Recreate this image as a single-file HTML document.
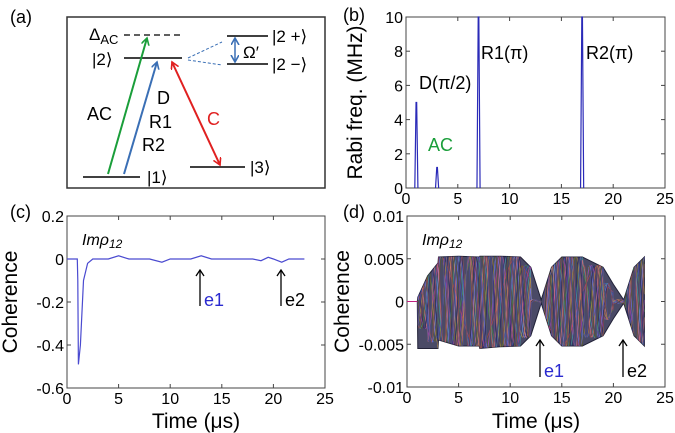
<!DOCTYPE html>
<html><head><meta charset="utf-8"><style>
body{margin:0;background:#fff;width:675px;height:433px;overflow:hidden}
svg{font-family:"Liberation Sans",sans-serif;display:block}
</style></head><body>
<svg id="fig" width="675" height="433" viewBox="0 0 675 433">
<defs>
<marker id="ag" markerWidth="10" markerHeight="10" refX="7" refY="4" orient="auto-start-reverse" markerUnits="userSpaceOnUse"><path d="M0,0 L7,4 L0,8" fill="none" stroke="#1a9e3a" stroke-width="1.6"/></marker>
<marker id="ab" markerWidth="10" markerHeight="10" refX="7" refY="4" orient="auto-start-reverse" markerUnits="userSpaceOnUse"><path d="M0,0 L7,4 L0,8" fill="none" stroke="#3a6fb5" stroke-width="1.6"/></marker>
<marker id="ar" markerWidth="10" markerHeight="10" refX="7" refY="4" orient="auto-start-reverse" markerUnits="userSpaceOnUse"><path d="M0,0 L7,4 L0,8" fill="none" stroke="#e02020" stroke-width="1.6"/></marker>
<marker id="ak" markerWidth="12" markerHeight="10" refX="5" refY="1" orient="0" markerUnits="userSpaceOnUse"><path d="M1,7 L5,1 L9,7" fill="none" stroke="#000" stroke-width="1.3"/></marker>
</defs>

<!-- Panel a -->
<g>
<text x="10" y="23" font-size="18">(a)</text>
<rect x="67" y="17" width="258" height="171" fill="#fff" stroke="#333" stroke-width="1.5"/>
<line x1="124" y1="35" x2="182" y2="35" stroke="#000" stroke-width="1.3" stroke-dasharray="6,4"/>
<text x="89" y="40" font-size="17">Δ<tspan font-size="13" dy="4">AC</tspan></text>
<line x1="124" y1="58" x2="182" y2="58" stroke="#000" stroke-width="1.5"/>
<text x="92" y="65" font-size="17">|2⟩</text>
<line x1="188" y1="58" x2="222" y2="42" stroke="#3a6fb5" stroke-dasharray="3,2"/>
<line x1="188" y1="60" x2="222" y2="65" stroke="#3a6fb5" stroke-dasharray="3,2"/>
<line x1="227" y1="36" x2="268" y2="36" stroke="#000" stroke-width="1.5"/>
<line x1="227" y1="64" x2="268" y2="64" stroke="#000" stroke-width="1.5"/>
<line x1="235" y1="38" x2="235" y2="62" stroke="#3a6fb5" stroke-width="1.5" marker-end="url(#ab)" marker-start="url(#ab)"/>
<text x="243" y="58" font-size="17">Ω′</text>
<text x="272" y="42" font-size="17">|2 +⟩</text>
<text x="272" y="70" font-size="17">|2 −⟩</text>
<line x1="83" y1="177" x2="140" y2="177" stroke="#000" stroke-width="1.5"/>
<text x="147" y="183" font-size="17">|1⟩</text>
<line x1="190" y1="167" x2="245" y2="167" stroke="#000" stroke-width="1.5"/>
<text x="250" y="173" font-size="17">|3⟩</text>
<line x1="108" y1="174" x2="147" y2="38" stroke="#1a9e3a" stroke-width="2" marker-end="url(#ag)"/>
<line x1="124" y1="174" x2="157" y2="62" stroke="#3a6fb5" stroke-width="2" marker-end="url(#ab)"/>
<line x1="220" y1="165" x2="172" y2="62" stroke="#e02020" stroke-width="2" marker-end="url(#ar)" marker-start="url(#ar)"/>
<text x="87" y="120" font-size="18">AC</text>
<text x="157" y="104" font-size="18">D</text>
<text x="149" y="128" font-size="18">R1</text>
<text x="142" y="151" font-size="18">R2</text>
<text x="207" y="125" font-size="18" fill="#e02020">C</text>
</g>

<g id="pb"></g>
<g id="pc"></g>
<g id="pd"></g>
</svg>
<script>
// Panel b data
const bPulseTimes=[1,3,7,17];
const bPulseHeights=[5,1.2,10,10];
const bXTicks=[0,5,10,15,20,25];
const bYTicks=[0,2,4,6,8,10];
// Panel c data
const cTimes=[0,1,1.05,1.1,1.3,1.6,2,2.5,4,5,6,8,9.2,10,12,13,14,18,18.8,19.5,20,20.8,21.5,23];
const cValues=[0,0,-0.1,-0.49,-0.4,-0.1,-0.02,0,0,0.015,0,0,-0.015,0,0,0.015,0,0,-0.008,0.008,0,-0.015,0,0];
const cXTicks=[0,5,10,15,20,25];
const cYTicks=[-0.6,-0.4,-0.2,0,0.2];
// Panel d envelope data
const dTimes=[0,1,1.05,2,3,3.05,5,7,7.05,9,11,12,13,14,15,17,19,20,21,22,23];
const dUpper=[0,0,0.0005,0.003,0.0045,0.0052,0.0053,0.0052,0.0053,0.0053,0.0052,0.004,0.0002,0.004,0.0052,0.0052,0.004,0.002,0.0002,0.004,0.0052];
const dLower=[0,0,-0.0055,-0.0055,-0.0055,-0.0045,-0.0052,-0.0052,-0.0055,-0.0053,-0.0052,-0.004,-0.0002,-0.004,-0.0052,-0.0052,-0.004,-0.002,-0.0002,-0.004,-0.0052];
const dXTicks=[0,5,10,15,20,25];
const dYTicks=[-0.01,-0.005,0,0.005,0.01];
const dYLabels=["-0.01","-0.005","0","0.005","0.01"];

const NS="http://www.w3.org/2000/svg";
function mk(p,tag,a){const e=document.createElementNS(NS,tag);for(const k in a)e.setAttribute(k,a[k]);p.appendChild(e);return e;}
function axes(g,x0,x1,y0,y1,xmin,xmax,ymin,ymax,xt,yt,ylab,ytxt){
  const sx=v=>x0+(v-xmin)/(xmax-xmin)*(x1-x0);
  const sy=v=>y1-(v-ymin)/(ymax-ymin)*(y1-y0);
  const r=mk(g,'rect',{x:x0,y:y0,width:x1-x0,height:y1-y0,fill:'none',stroke:'#444','stroke-width':1});
  
  
  xt.forEach(v=>{
    mk(g,'line',{x1:sx(v),x2:sx(v),y1:y1,y2:y1-4,stroke:'#444'});
    mk(g,'line',{x1:sx(v),x2:sx(v),y1:y0,y2:y0+4,stroke:'#444'});
    const t=mk(g,'text',{x:sx(v),y:y1+16,'font-size':16,'text-anchor':'middle'});t.textContent=v;
    
    
  });
  yt.forEach((v,i)=>{
    mk(g,'line',{x1:x0,x2:x0+4,y1:sy(v),y2:sy(v),stroke:'#444'});
    mk(g,'line',{x1:x1,x2:x1-4,y1:sy(v),y2:sy(v),stroke:'#444'});
    const t=mk(g,'text',{x:x0-3,y:sy(v)+6,'font-size':16,'text-anchor':'end'});t.textContent=ytxt?ytxt[i]:v;
    
    
  });
  const yl=mk(g,'text',{x:0,y:0,'font-size':21,'text-anchor':'middle',transform:`translate(${x0-ylab[1]},${(y0+y1)/2}) rotate(-90)`});
  yl.textContent=ylab[0];
  
  
  return [sx,sy];
}
// Panel b
(function(){
  const g=document.getElementById('pb');
  const lab=mk(g,'text',{x:343,y:21,'font-size':18});lab.textContent='(b)';
  const [sx,sy]=axes(g,406,665,17,188,0,25,0,10,bXTicks,bYTicks,['Rabi freq. (MHz)',44]);
  bPulseTimes.forEach((t,i)=>{
    const h=bPulseHeights[i];
    const p=mk(g,'path',{d:`M${sx(t-0.15)},${sy(0)} L${sx(t-0.03)},${sy(h)} L${sx(t+0.03)},${sy(h)} L${sx(t+0.15)},${sy(0)}`,fill:'none',stroke:'#2a2ab8','stroke-width':1.2});
    
    
  });
  [['D(π/2)',419,89,'#000'],['AC',428,151,'#1a9e3a'],['R1(π)',481,59,'#000'],['R2(π)',586,59,'#000']].forEach(a=>{
    const t=mk(g,'text',{x:a[1],y:a[2],'font-size':18,fill:a[3]});t.textContent=a[0];
    
    
  });
})();
// Panel c
(function(){
  const g=document.getElementById('pc');
  const lab=mk(g,'text',{x:10,y:218,'font-size':18});lab.textContent='(c)';
  const [sx,sy]=axes(g,67,325,216,388,0,25,-0.6,0.2,cXTicks,cYTicks,['Coherence',50]);
  const d=cTimes.map((t,i)=>(i?'L':'M')+sx(t).toFixed(1)+','+sy(cValues[i]).toFixed(1)).join(' ');
  const p=mk(g,'path',{d:d,fill:'none',stroke:'#4a4ad0','stroke-width':1.2});
  
  
  const tl=mk(g,'text',{x:82,y:245,'font-size':16,'font-style':'italic'});tl.innerHTML='Imρ<tspan font-size="12" dy="3">12</tspan>';
  mk(g,'line',{x1:200,y1:306,x2:200,y2:270,stroke:'#000','stroke-width':1.3,'marker-end':'url(#ak)'});
  mk(g,'line',{x1:281,y1:306,x2:281,y2:270,stroke:'#000','stroke-width':1.3,'marker-end':'url(#ak)'});
  const e1=mk(g,'text',{x:204,y:306,'font-size':18,fill:'#2a2ad0'});e1.textContent='e1';
  const e2=mk(g,'text',{x:285,y:306,'font-size':18});e2.textContent='e2';
  const xl=mk(g,'text',{x:196,y:428,'font-size':21,'text-anchor':'middle'});xl.textContent='Time (μs)';
  
  
})();
// Panel d
(function(){
  const g=document.getElementById('pd');
  const lab=mk(g,'text',{x:343,y:218,'font-size':18});lab.textContent='(d)';
  const [sx,sy]=axes(g,407,665,216,387,0,25,-0.01,0.01,dXTicks,dYTicks,['Coherence',58],dYLabels);
  let d='';
  dTimes.forEach((t,i)=>{d+=(i?'L':'M')+sx(t).toFixed(1)+','+sy(dUpper[i]).toFixed(1)+' ';});
  for(let i=dTimes.length-1;i>=0;i--)d+='L'+sx(dTimes[i]).toFixed(1)+','+sy(dLower[i]).toFixed(1)+' ';
  const env=mk(g,'path',{d:d+'Z',fill:'#4a4a66',stroke:'#222238','stroke-width':1});
  
  
  const cp=mk(g,'clipPath',{id:'envclip'});mk(cp,'path',{d:d+'Z'});
  const cols=['#d04040','#40a040','#4060d0','#c040c0','#40b0b0','#d0a040','#8080ff','#ff8080','#202060','#606020','#a05050','#5050a0'];
  const lg=mk(g,'g',{'clip-path':'url(#envclip)',opacity:0.75});
  cols.forEach((c,k)=>{
    let s='';
    for(let t=1;t<=23;t+=0.08){
      const i=dTimes.findIndex(x=>x>=t);
      const up=dUpper[Math.max(i,0)];
      const v=1.05*up*Math.sin((t-1)*(0.8+k*0.45)+k);
      s+=(s?'L':'M')+sx(t).toFixed(1)+','+sy(v).toFixed(1);
    }
    mk(lg,'path',{d:s,fill:'none',stroke:c,'stroke-width':0.7});
  });
  mk(g,'line',{x1:sx(0),x2:sx(1),y1:sy(0),y2:sy(0),stroke:'#c02080'});
  const tl=mk(g,'text',{x:422,y:245,'font-size':16,'font-style':'italic'});tl.innerHTML='Imρ<tspan font-size="12" dy="3">12</tspan>';
  mk(g,'line',{x1:540,y1:377,x2:540,y2:340,stroke:'#000','stroke-width':1.3,'marker-end':'url(#ak)'});
  mk(g,'line',{x1:623,y1:377,x2:623,y2:340,stroke:'#000','stroke-width':1.3,'marker-end':'url(#ak)'});
  const e1=mk(g,'text',{x:544,y:377,'font-size':18,fill:'#2a2ad0'});e1.textContent='e1';
  const e2=mk(g,'text',{x:627,y:377,'font-size':18});e2.textContent='e2';
  const xl=mk(g,'text',{x:536,y:428,'font-size':21,'text-anchor':'middle'});xl.textContent='Time (μs)';
  
  
})();
</script>
</body></html>
